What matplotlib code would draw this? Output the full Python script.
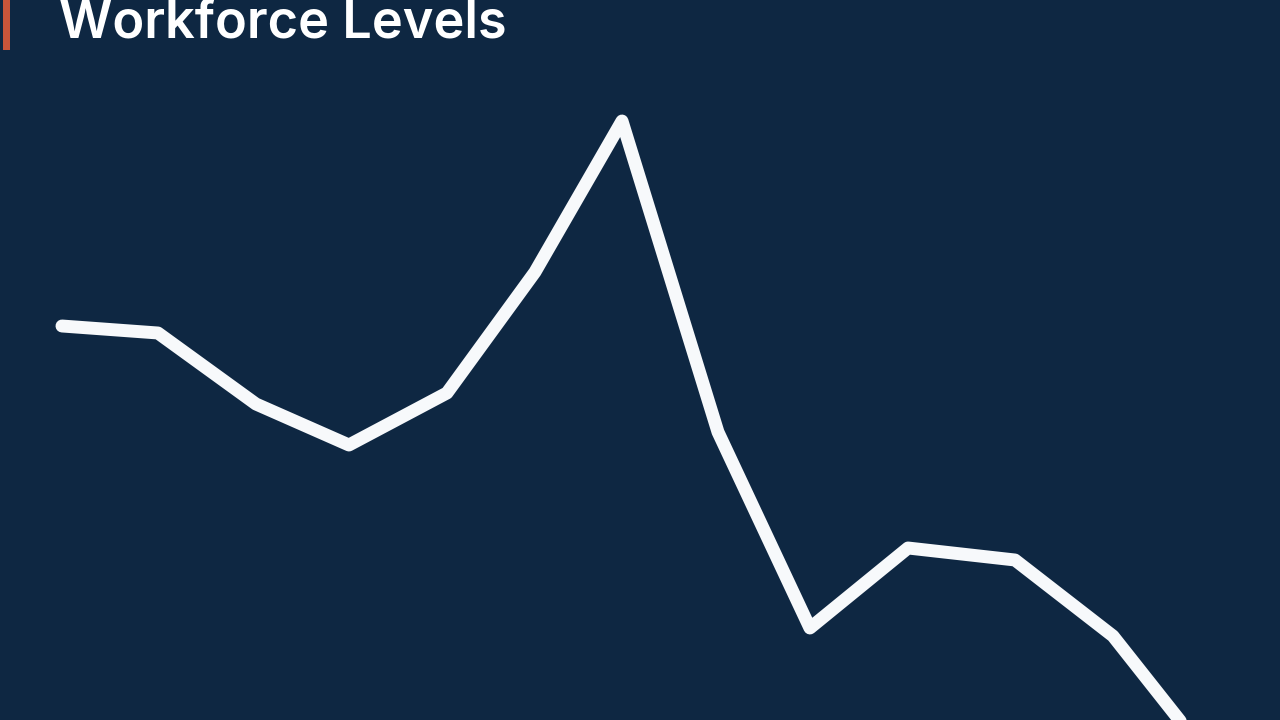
import matplotlib
matplotlib.use("Agg")
import matplotlib.pyplot as plt
from matplotlib.patches import Rectangle

# Data (x in periods, y in arbitrary workforce units)
periods = [0, 1.005, 2.031, 3.005, 4.031, 4.953, 5.864, 6.869, 7.832, 8.859, 9.979, 11.005, 11.916]
workforce = [474, 467, 396, 355, 407, 528, 679, 368, 172, 252, 240, 164, 54]
title = "Workforce Levels"

BG = "#0e2742"
LINE = "#f7f9fb"
ACCENT = "#c9553a"

fig = plt.figure(figsize=(12.8, 7.2), dpi=100, facecolor=BG)
ax = fig.add_axes([0, 0, 1, 1])
ax.set_facecolor(BG)
ax.plot(periods, workforce, color=LINE, linewidth=9.3,
        solid_joinstyle="round", solid_capstyle="round")
ax.set_xlim(-0.649, 12.754)
ax.set_ylim(80, 800)
ax.axis("off")

fig.text(59 / 1280, 1 - 37 / 720, title, color="white", fontsize=37.7,
         fontweight="semibold", family=["Inter", "DejaVu Sans"],
         ha="left", va="baseline")
fig.patches.append(Rectangle((3 / 1280, 1 - 50 / 720), 7 / 1280, 50 / 720,
                             transform=fig.transFigure, facecolor=ACCENT,
                             edgecolor="none"))

fig.savefig("out.png", dpi=100, facecolor=BG)
